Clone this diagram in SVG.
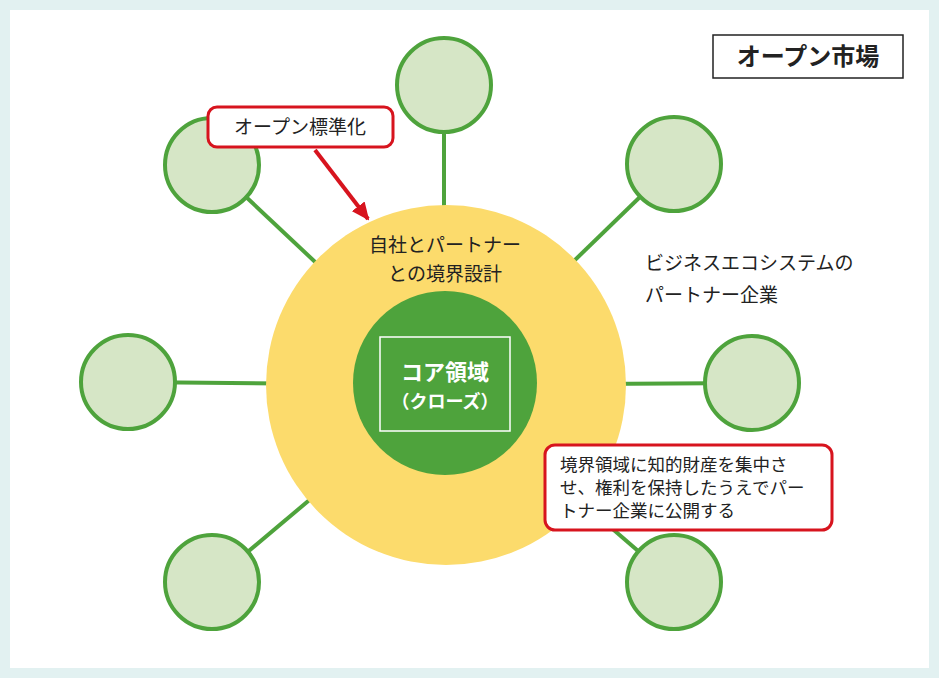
<svg xmlns="http://www.w3.org/2000/svg" width="939" height="678" viewBox="0 0 939 678">
<style>
.sat{fill:#d6e6c6;stroke:#4ea33c;stroke-width:4}
.ln{stroke:#4ea33c;stroke-width:4}
.t{font-family:"Noto Sans CJK JP","Noto Sans",sans-serif;fill:#222}
.rb{fill:#fff;stroke:#d7141e;stroke-width:3}
</style>
<defs><marker id="ah" markerWidth="18" markerHeight="16" refX="16" refY="8" orient="auto" markerUnits="userSpaceOnUse" viewBox="0 0 18 16"><path d="M0,0L18,8L0,16z" fill="#d7141e"/></marker></defs>
<rect width="939" height="678" fill="#e2f1f1"/>
<rect x="10" y="10" width="919" height="658" fill="#fff"/>
<g id="connectors">
<line class="ln" x1="444" y1="85" x2="444" y2="385"/>
<line class="ln" x1="212" y1="165" x2="446" y2="385"/>
<line class="ln" x1="674" y1="164" x2="446" y2="385"/>
<line class="ln" x1="128" y1="382" x2="446" y2="385"/>
<line class="ln" x1="752" y1="383" x2="446" y2="385"/>
<line class="ln" x1="212" y1="582" x2="446" y2="385"/>
<line class="ln" x1="674" y1="582" x2="446" y2="385"/>
<line x1="315" y1="150" x2="368" y2="219" stroke="#d7141e" stroke-width="4" marker-end="url(#ah)"/>
</g>
<g id="s1"><circle class="sat" cx="444" cy="85" r="47"/></g>
<g id="s2"><circle class="sat" cx="212" cy="165" r="47"/></g>
<g id="s3"><circle class="sat" cx="674" cy="164" r="47"/></g>
<g id="s4"><circle class="sat" cx="128" cy="382" r="47"/></g>
<g id="s5"><circle class="sat" cx="752" cy="383" r="47"/></g>
<g id="s6"><circle class="sat" cx="212" cy="582" r="47"/></g>
<g id="s7"><circle class="sat" cx="674" cy="582" r="47"/></g>
<g id="boundary"><circle cx="446" cy="385" r="180" fill="#fcdb6c"/>
<text class="t" font-size="19" text-anchor="middle"><tspan x="445" y="252">自社とパートナー</tspan><tspan x="445" y="281">との境界設計</tspan></text></g>
<g id="core"><circle cx="445" cy="383" r="92" fill="#4ea33c"/>
<rect x="380" y="337" width="130" height="94" fill="none" stroke="#fff" stroke-width="1.5"/>
<text class="t" font-size="22" font-weight="bold" style="fill:#fff" text-anchor="middle" x="445" y="380">コア領域</text>
<text class="t" font-size="18" font-weight="bold" style="fill:#fff" text-anchor="middle" x="445" y="408">（クローズ）</text></g>
<g id="market"><rect x="713" y="35" width="190" height="43" fill="#fff" stroke="#222" stroke-width="1.5"/>
<text class="t" font-size="24" font-weight="bold" text-anchor="middle" x="808" y="65">オープン市場</text></g>
<g id="std"><rect class="rb" x="208" y="107" width="185" height="40" rx="9"/>
<text class="t" font-size="19" text-anchor="middle" x="300" y="134">オープン標準化</text></g>
<g id="eco"><text class="t" font-size="19"><tspan x="645" y="270">ビジネスエコシステムの</tspan><tspan x="645" y="302">パートナー企業</tspan></text></g>
<g id="note"><rect class="rb" x="545" y="445" width="287" height="85" rx="10"/>
<text class="t" font-size="17.5"><tspan x="560" y="471">境界領域に知的財産を集中さ</tspan><tspan x="560" y="494">せ、権利を保持したうえでパー</tspan><tspan x="560" y="517">トナー企業に公開する</tspan></text></g>
</svg>
